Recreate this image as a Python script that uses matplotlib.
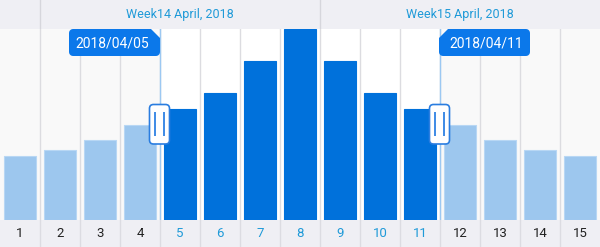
import numpy as np
import matplotlib
matplotlib.use("Agg")
import matplotlib.pyplot as plt
from matplotlib.patches import FancyBboxPatch, Rectangle, Polygon

plt.rcParams['font.family'] = ['Roboto', 'DejaVu Sans']

# data
days = list(range(1, 16))
values = [20, 22, 25, 30, 35, 40, 50, 60, 50, 40, 35, 30, 25, 22, 20]
weeks = ["Week14 April, 2018", "Week15 April, 2018"]
week_start = [1.5, 8.5]   # week boundaries (between columns)
week_end = [8.5, 15.5]
sel_start, sel_end = 4.5, 11.5
sel_labels = ["2018/04/05", "2018/04/11"]

W, H = 600, 247
top_px, bot_px = 29, 220
dark = '#0071db'
light = '#9dc7ee'
band = '#efeff4'
grid_c = '#dcdce0'
tip_c = '#0b78ea'
label_blue = '#1f9ad8'

fig = plt.figure(figsize=(W/100, H/100), dpi=100)
fig.patch.set_facecolor('white')

def fy(px):
    return 1 - px / H

# header
axh = fig.add_axes([0, fy(top_px), 1, top_px/H])
axh.set_xlim(0.5, 15.5)
axh.set_ylim(0, 1)
axh.axis('off')
axh.add_patch(Rectangle((0.5, 0), 15, 1, color=band, zorder=0))
for ws, we, wl in zip(week_start, week_end, weeks):
    axh.axvline(ws, color='#d6d6dc', lw=1)
    axh.text((ws + we) / 2, 0.5, wl, ha='center', va='center',
             color=label_blue, fontsize=9)

# main plot
ax = fig.add_axes([0, fy(bot_px), 1, (bot_px - top_px)/H])
ax.set_xlim(0.5, 15.5)
ax.set_ylim(0, 60)
ax.axis('off')
ax.add_patch(Rectangle((0.5, 0), 15, 60, color='#f9f9f9', zorder=0))
ax.add_patch(Rectangle((sel_start, 0), sel_end - sel_start, 60, color='white', zorder=0))
for x in range(1, 15):
    ax.axvline(x + 0.5, color=grid_c, lw=1, zorder=1)
cols = [dark if sel_start < d < sel_end else light for d in days]
edges = [dark if sel_start < d < sel_end else '#b8d7f4' for d in days]
ax.bar(days, values, width=0.8, color=cols, edgecolor=edges, lw=0.8, zorder=2)
for s in (sel_start, sel_end):
    ax.axvline(s, color='#9cc8f2', lw=1, zorder=3)

# bottom axis band
axb = fig.add_axes([0, 0, 1, (H - bot_px)/H])
axb.set_xlim(0.5, 15.5)
axb.set_ylim(0, 1)
axb.axis('off')
axb.add_patch(Rectangle((0.5, 0), 15, 1, color=band, zorder=0))
for x in range(1, 15):
    axb.axvline(x + 0.5, color='#dcdce2', lw=1)
for d in days:
    axb.text(d, 0.5, str(d), ha='center', va='center', fontsize=9.5,
             color=label_blue if sel_start < d < sel_end else '#222222')

# overlay in pixel coordinates for handles and tooltips
ov = fig.add_axes([0, 0, 1, 1])
ov.set_xlim(0, W)
ov.set_ylim(H, 0)
ov.axis('off')
colw = W / 15.0

def px(xd):
    return (xd - 0.5) * colw

for s in (sel_start, sel_end):
    xs = px(s)
    ov.add_patch(FancyBboxPatch((xs - 10.5, 104.5), 20, 39.5,
                                boxstyle='round,pad=0,rounding_size=4',
                                fc='white', ec='#2a7de0', lw=1.2, zorder=5))
    for dx in (-4.5, 4.5):
        ov.plot([xs - 0.5 + dx] * 2, [112, 135.5], color='#3d8ae6',
                lw=1.4, zorder=6, solid_capstyle='butt')

def corner(cx, cy, a0, a1, r=4):
    t = np.radians(np.linspace(a0, a1, 6))
    return [(cx + r*np.cos(t_), cy + r*np.sin(t_)) for t_ in t]

# tooltips with a cut corner next to the selection line
tw, th, r, cut = 91, 27, 4, 9
for i, (s, lab) in enumerate(zip((sel_start, sel_end), sel_labels)):
    xs = px(s)
    x0 = xs - tw if i == 0 else xs - 1
    x1 = x0 + tw
    y0, y1 = top_px, top_px + th
    # y axis is inverted: angles measured in data space
    if i == 0:
        pts = corner(x0 + r, y0 + r, 180, 270)            # top-left
        pts += [(x1 - cut, y0), (x1, y0 + cut)]           # cut top-right
        pts += corner(x1 - r, y1 - r, 0, 90)              # bottom-right
        pts += corner(x0 + r, y1 - r, 90, 180)            # bottom-left
    else:
        pts = [(x0, y0 + cut), (x0 + cut, y0)]            # cut top-left
        pts += corner(x1 - r, y0 + r, 270, 360)           # top-right
        pts += corner(x1 - r, y1 - r, 0, 90)              # bottom-right
        pts += corner(x0 + r, y1 - r, 90, 180)            # bottom-left
    ov.add_patch(Polygon(pts, closed=True, fc=tip_c, ec='none', zorder=7))
    ov.text((x0 + x1) / 2 + (-2 if i == 0 else 2), (y0 + y1) / 2 + 0.5, lab,
            ha='center', va='center', color='white', fontsize=10, zorder=8)

fig.savefig('out.png', dpi=100)
